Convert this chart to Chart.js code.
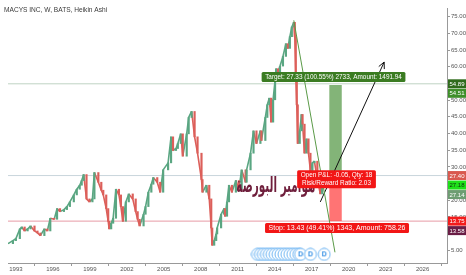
<!DOCTYPE html>
<html>
<head>
<meta charset="utf-8" />
<script src="https://cdn.jsdelivr.net/npm/chart.js@4.4.0/dist/chart.umd.min.js"></script>
<style>
  body { margin: 0; background: #fff; }
  #wrap { width: 466px; height: 275px; }
</style>
</head>
<body>
<div id="wrap"><canvas id="c" width="466" height="275"></canvas></div>
<script>
/* ---------- Data ---------- */
const weekDates = [1992.36,1992.76,1993.00,1993.32,1993.48,1993.71,1993.95,1994.19,1994.51,1994.75,
  1994.99,1995.31,1995.55,1995.79,1996.11,1996.34,1996.58,1996.90,1997.14,1997.38,
  1997.70,1997.94,1998.18,1998.34,1998.50,1998.73,1998.97,1999.21,1999.37,1999.69,
  1999.93,2000.09,2000.33,2000.49,2000.57,2000.73,2000.89,2001.12,2001.36,2001.52,
  2001.68,2001.92,2002.16,2002.48,2002.72,2002.88,2003.04,2003.36,2003.52,2003.75,
  2003.99,2004.15,2004.47,2004.71,2004.95,2005.35,2005.59,2005.75,2005.99,2006.14,
  2006.38,2006.54,2006.86,2007.02,2007.26,2007.50,2007.74,2008.06,2008.14,2008.46,
  2008.69,2008.85,2008.93,2009.09,2009.25,2009.33,2009.65,2009.89,2009.97,2010.13,
  2010.29,2010.53,2010.85,2011.09,2011.32,2011.64,2011.72,2012.04,2012.28,2012.52,
  2012.84,2012.92,2013.24,2013.40,2013.56,2013.71,2013.87,2014.03,2014.11,2014.27,
  2014.43,2014.67,2014.91,2015.07,2015.23,2015.39,2015.55,2015.63,2015.71,2015.79,
  2015.87,2016.03,2016.18,2016.26,2016.42,2016.58,2016.74,2016.90,2017.06,2017.22,
  2017.46,2017.70,2017.86,2018.02];
const haClose = [7.0,7.9,8.5,11.4,12.0,10.8,11.4,12.3,10.8,10.2,
  9.4,11.4,10.8,14.6,14.3,17.5,16.6,17.2,18.1,19.5,
  21.6,23.3,24.5,25.9,27.7,20.4,19.5,20.4,28.3,25.4,
  23.0,21.6,17.5,13.7,11.4,13.1,14.6,23.3,21.6,18.1,
  13.7,19.5,21.9,20.4,16.6,14.3,12.3,15.8,18.1,22.4,
  24.8,26.8,25.4,22.4,29.1,31.2,39.0,34.9,35.5,37.0,
  39.9,33.2,39.9,44.8,46.6,39.0,34.1,26.2,22.4,24.5,
  20.4,11.7,6.5,7.9,9.9,11.7,15.8,17.5,15.2,19.5,
  24.5,22.4,25.9,23.3,29.1,25.4,29.1,34.1,40.8,37.0,
  40.8,37.9,44.8,48.6,50.6,43.4,50.1,55.9,59.4,58.5,
  60.2,63.1,66.9,65.5,69.0,71.9,73.3,69.0,57.3,48.6,
  37.0,40.8,45.7,42.8,34.1,38.4,34.1,28.8,31.2,31.7,
  26.2,21.9,23.9,25.5];
const yearTicks = [1993,1996,1999,2002,2005,2008,2011,2014,2017,2020,2023,2026];
const priceTicks = [5,10,15,20,25,30,35,40,45,50,55,60,65,70,75];
const levelValues = [54.89, 27.40, 13.75];
const tagValues = [54.89, 54.51, 27.40, 27.18, 27.14, 13.75, 13.58];
const dividendDates = [2012.60,2012.84,2013.08,2013.32,2013.56,2013.79,2014.03,2014.27,2014.51,
  2014.75,2014.99,2015.23,2015.47,2015.71,2015.95,2016.10,2016.90,2018.02];
const dividendLevel = 3.8;
const trendLine = [[2015.55, 73.9], [2018.89, 4.4]];
const arrowLine = [[2017.70, 19.5], [2022.88, 61.4]];
const positionDates = [2018.42, 2019.45];
const entryPrice = 27.18, targetPrice = 54.51, stopPrice = 13.75;
const targetText = 'Target: 27.33 (100.55%) 2733, Amount: 1491.94';
const stopText = 'Stop: 13.43 (49.41%) 1343, Amount: 758.26';
const pnlText = ['Open P&L: -0.05, Qty: 18', 'Risk/Reward Ratio: 2.03'];
const titleText = 'MACYS INC, W, BATS, Heikin Ashi';
const watermark = 'هوامير البورصة';

/* ---------- Styles ---------- */
const UP = '#5aa682', DOWN = '#dc5f5a';
const levelColors = ['#bfd3c4', '#c9d6dc', '#e79aa6'];
const tagBg = ['#2f6b1c', '#3f8f2a', '#d9594f', '#1fe21a', '#6e9d72', '#f21b1b', '#6a1d45'];
const tagFg = ['#fff', '#fff', '#fff', '#10330f', '#fff', '#fff', '#fff'];
const FONT = '"Liberation Sans", Arial, sans-serif';

/* ---------- Candles ---------- */
const haOpen = [haClose[0]].concat(haClose.slice(0, -1));
const candleData = weekDates.map((d, i) => ({ x: d, y: [haOpen[i], haClose[i]] }));
const candleColors = weekDates.map((d, i) => haClose[i] >= haOpen[i] ? UP : DOWN);

/* ---------- Dividend marker ---------- */
const divIcon = document.createElement('canvas');
divIcon.width = 14; divIcon.height = 14;
(function(){
  const g = divIcon.getContext('2d');
  g.beginPath(); g.arc(7, 7, 6, 0, Math.PI * 2);
  g.fillStyle = '#fff'; g.fill();
  g.lineWidth = 1; g.strokeStyle = '#6fb5f2'; g.stroke();
  g.fillStyle = '#2f8de4'; g.font = 'bold 7px ' + FONT;
  g.textAlign = 'center'; g.textBaseline = 'middle';
  g.fillText('D', 7, 7.5);
})();

function hLine(v, col) {
  return { type: 'line', data: [{ x: 1992.36, y: v }, { x: 2027.98, y: v }],
    borderColor: col, borderWidth: 1, pointRadius: 0, order: 20 };
}

function roundBox(ctx, x, y, w, h, r, fill) {
  ctx.beginPath();
  ctx.moveTo(x + r, y); ctx.lineTo(x + w - r, y); ctx.quadraticCurveTo(x + w, y, x + w, y + r);
  ctx.lineTo(x + w, y + h - r); ctx.quadraticCurveTo(x + w, y + h, x + w - r, y + h);
  ctx.lineTo(x + r, y + h); ctx.quadraticCurveTo(x, y + h, x, y + h - r);
  ctx.lineTo(x, y + r); ctx.quadraticCurveTo(x, y, x + r, y);
  ctx.fillStyle = fill; ctx.fill();
}

function textBox(ctx, cx, top, lines, bg, fs) {
  ctx.font = fs + 'px ' + FONT;
  const w = Math.max(...lines.map(t => ctx.measureText(t).width)) + 7;
  const h = lines.length * 8 + 2;
  roundBox(ctx, cx - w / 2, top, w, h, 1.5, bg);
  ctx.fillStyle = '#fff'; ctx.textAlign = 'center'; ctx.textBaseline = 'middle';
  lines.forEach((t, i) => ctx.fillText(t, cx, top + 5 + i * 8));
}

const overlay = {
  id: 'overlay',
  afterDatasetsDraw(chart) {
    const { ctx, scales: { x, y } } = chart;
    ctx.save();
    // arrow head
    const ax0 = x.getPixelForValue(arrowLine[0][0]), ay0 = y.getPixelForValue(arrowLine[0][1]);
    const ax1 = x.getPixelForValue(arrowLine[1][0]), ay1 = y.getPixelForValue(arrowLine[1][1]);
    const ang = Math.atan2(ay1 - ay0, ax1 - ax0);
    ctx.strokeStyle = '#111'; ctx.lineWidth = 1;
    ctx.beginPath();
    ctx.moveTo(ax1 - 7 * Math.cos(ang - 0.45), ay1 - 7 * Math.sin(ang - 0.45));
    ctx.lineTo(ax1, ay1);
    ctx.lineTo(ax1 - 7 * Math.cos(ang + 0.45), ay1 - 7 * Math.sin(ang + 0.45));
    ctx.stroke();

    // watermark, squeezed to the width it has in the picture
    ctx.save();
    ctx.font = 'bold 21px "DejaVu Sans", sans-serif';
    ctx.textAlign = 'left'; ctx.textBaseline = 'middle';
    const m = ctx.measureText(watermark);
    const ww = m.actualBoundingBoxLeft + m.actualBoundingBoxRight;
    const left = x.getPixelForValue(2010.93);
    ctx.translate(left, y.getPixelForValue(24.0));
    ctx.scale(78 / ww, 1);
    ctx.fillStyle = '#6f1f3c';
    ctx.fillText(watermark, m.actualBoundingBoxLeft, 0);
    ctx.restore();

    // position labels
    const cx = (x.getPixelForValue(positionDates[0]) + x.getPixelForValue(positionDates[1])) / 2;
    textBox(ctx, cx - 2, y.getPixelForValue(targetPrice) - 13, [targetText], '#3b7c22', 6.4);
    textBox(ctx, cx + 1, y.getPixelForValue(entryPrice) - 6, pnlText, '#f21616', 6.4);
    textBox(ctx, cx + 1.5, y.getPixelForValue(stopPrice) + 2, [stopText], '#f21616', 7);
    ctx.restore();
  },
  afterDraw(chart) {
    const { ctx, scales: { y }, chartArea } = chart;
    ctx.save();
    // price tags on the axis
    ctx.font = '6px ' + FONT; ctx.textAlign = 'center'; ctx.textBaseline = 'middle';
    let prev = -100;
    tagValues.forEach((v, i) => {
      let py = Math.max(y.getPixelForValue(v), prev + 9.5);
      prev = py;
      ctx.fillStyle = tagBg[i];
      ctx.fillRect(chartArea.right + 1, py - 4.5, 466 - chartArea.right - 1, 9);
      ctx.fillStyle = tagFg[i];
      ctx.fillText(v.toFixed(2), chartArea.right + 10, py + 0.5);
    });
    // title
    ctx.font = '6.6px ' + FONT; ctx.fillStyle = '#3a3a3a';
    ctx.textAlign = 'left'; ctx.textBaseline = 'middle';
    ctx.fillText(titleText, 4, 10);
    ctx.restore();
  }
};

const datasets = [
  ...levelValues.map((v, i) => hLine(v, levelColors[i])),
  { type: 'line', data: [{ x: positionDates[0], y: targetPrice }, { x: positionDates[1], y: targetPrice }],
    borderWidth: 0, pointRadius: 0, fill: { value: entryPrice }, backgroundColor: 'rgba(78,148,62,0.7)', order: 15 },
  { type: 'line', data: [{ x: positionDates[0], y: entryPrice }, { x: positionDates[1], y: entryPrice }],
    borderWidth: 0, pointRadius: 0, fill: { value: stopPrice }, backgroundColor: 'rgba(255,70,70,0.75)', order: 15 },
  { type: 'line', data: weekDates.map((d, i) => ({ x: d, y: haClose[i] })), borderWidth: 1.6,
    pointRadius: 0, order: 11, borderJoinStyle: 'round',
    segment: { borderColor: c => c.p1.parsed.y >= c.p0.parsed.y ? UP : DOWN } },
  { type: 'bar', data: candleData, backgroundColor: candleColors, barThickness: 1.5,
    borderWidth: 0, order: 10 },
  { type: 'line', data: trendLine.map(p => ({ x: p[0], y: p[1] })), borderColor: '#5a9a47',
    borderWidth: 1, pointRadius: 0, order: 5 },
  { type: 'line', data: arrowLine.map(p => ({ x: p[0], y: p[1] })), borderColor: '#111',
    borderWidth: 1, pointRadius: 0, order: 5 },
  { type: 'scatter', data: dividendDates.map(d => ({ x: d, y: dividendLevel })),
    pointStyle: divIcon, pointRadius: 7, order: 4 }
];

new Chart(document.getElementById('c'), {
  type: 'bar',
  data: { datasets },
  options: {
    responsive: false, animation: false, devicePixelRatio: 1,
    layout: { padding: 0 },
    plugins: { legend: { display: false }, tooltip: { enabled: false } },
    scales: {
      x: {
        type: 'linear', min: 1992.36, max: 2027.98, offset: false,
        afterBuildTicks: s => { s.ticks = yearTicks.map(v => ({ value: v })); },
        afterFit: s => { s.height = 12; },
        ticks: { color: '#555', font: { size: 6, family: FONT }, padding: 0, maxRotation: 0,
          autoSkip: false, callback: v => String(v) },
        grid: { drawOnChartArea: false, drawTicks: true, tickLength: 3, color: '#999' },
        border: { color: '#999' }
      },
      y: {
        position: 'right', min: 1.2, max: 77.6,
        afterBuildTicks: s => { s.ticks = priceTicks.map(v => ({ value: v })); },
        afterFit: s => { s.width = 19; },
        ticks: { color: '#555', font: { size: 6, family: FONT }, padding: 1,
          callback: v => Number(v).toFixed(2) },
        grid: { drawOnChartArea: false, drawTicks: true, tickLength: 3, color: '#999' },
        border: { color: '#999' }
      }
    }
  },
  plugins: [overlay]
});
</script>
</body>
</html>
